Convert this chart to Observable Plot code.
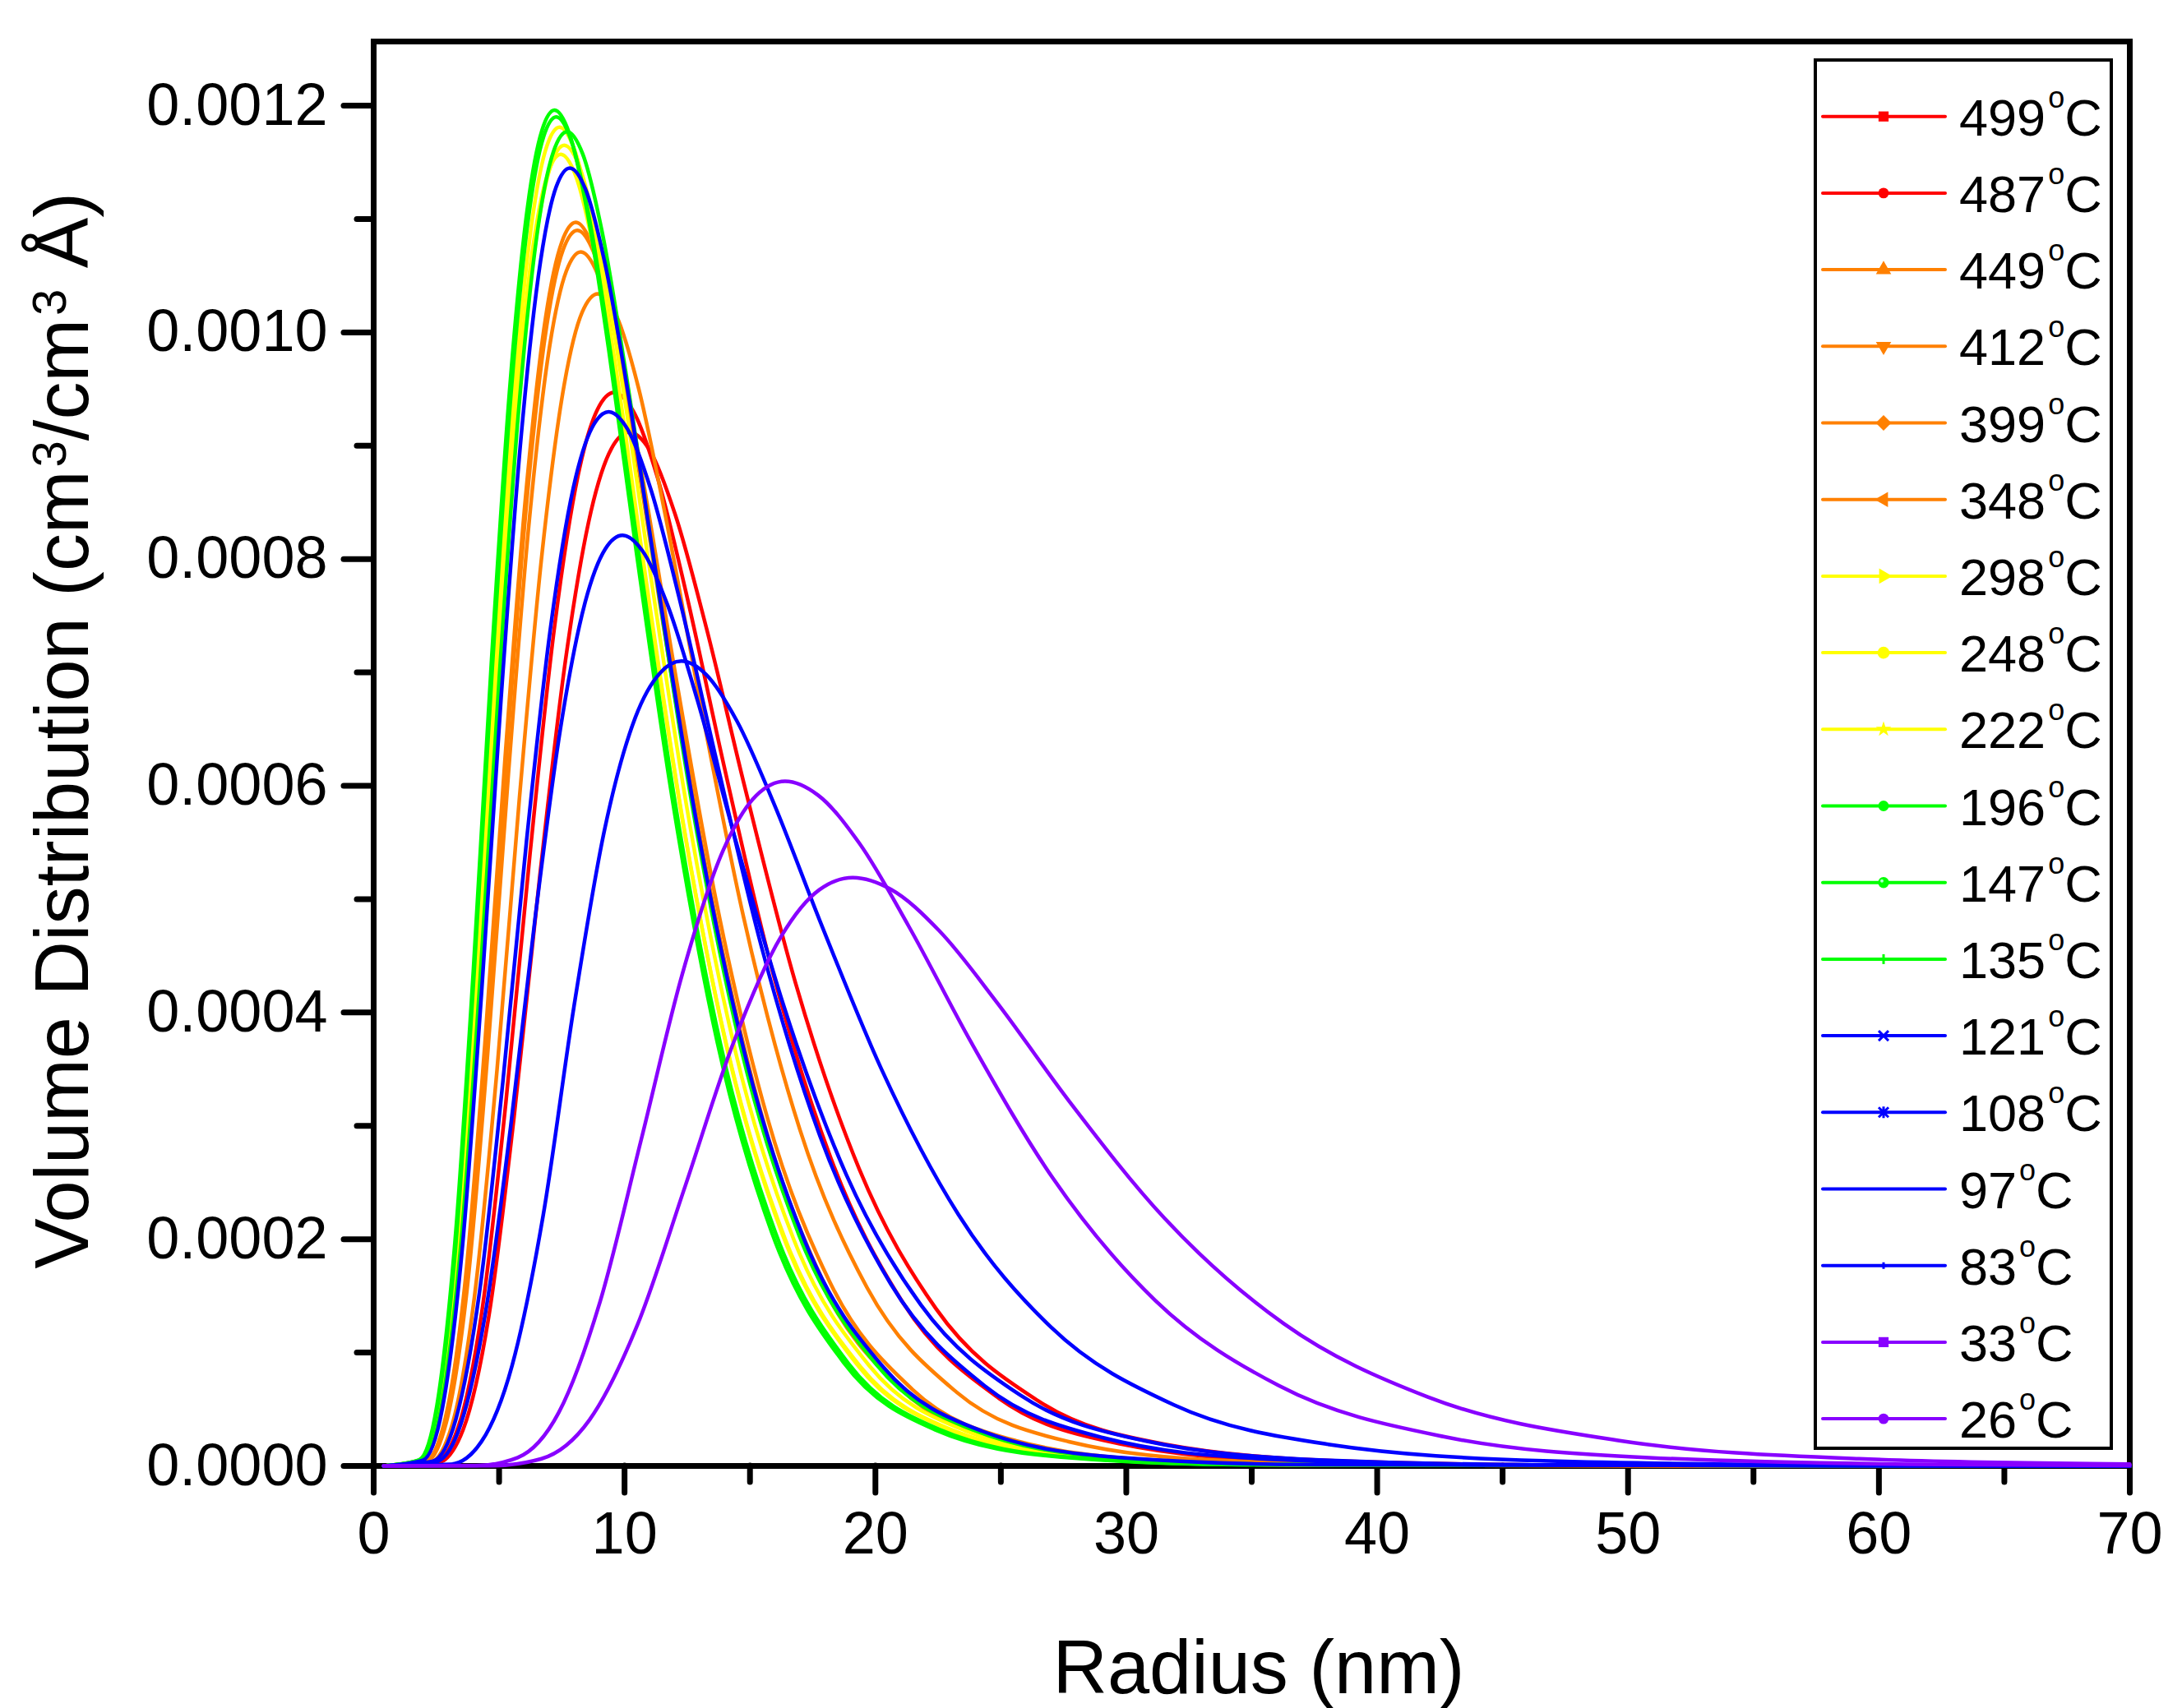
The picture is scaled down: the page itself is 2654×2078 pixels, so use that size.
<!DOCTYPE html>
<html>
<head>
<meta charset="utf-8">
<script src="https://cdn.jsdelivr.net/npm/d3@7"></script>
<script src="https://cdn.jsdelivr.net/npm/@observablehq/plot@0.6"></script>
<style>
  html, body { margin: 0; padding: 0; background: #ffffff; }
  #chart { width: 2654px; height: 2078px; }
</style>
</head>
<body>
<div id="chart"></div>
<script>
// ---------- data (radius in nm, volume distribution in cm^3/cm^3 Å) ----------
const labels = ["499","487","449","412","399","348","298","248","222","196","147","135","121","108","97","83","33","26"];
const colors = ["#FF0000","#FF0000","#FF8000","#FF8000","#FF8000","#FF8000","#FFFF00","#FFFF00","#FFFF00","#00FF00","#00FF00","#00FF00","#0000FF","#0000FF","#0000FF","#0000FF","#8800FF","#8800FF"];
const markers = ["square","circle","triUp","triDown","diamond","triLeft","triRight","circleBig","star","circle","circleHi","vtick","times","asterisk","none","plus","square","circle"];

const xTicks = [0,10,20,30,40,50,60,70];
const xMinorTicks = [5,15,25,35,45,55,65];
const yTicks = [0,0.0002,0.0004,0.0006,0.0008,0.0010,0.0012];
const yMinorTicks = [0.0001,0.0003,0.0005,0.0007,0.0009,0.0011];

const radius499 = [0.4,2.40,3.36,4.32,5.27,6.23,7.19,8.15,8.92,9.59,10.36,11.32,12.47,13.91,15.82,18.22,21.10,24.93,29.73,36.44,46.03,70];
const vol499 = [0,2.79e-6,3.35e-5,1.372e-4,3.207e-4,5.396e-4,7.370e-4,8.742e-4,9.320e-4,9.47e-4,9.301e-4,8.715e-4,7.687e-4,6.231e-4,4.429e-4,2.717e-4,1.439e-4,5.96e-5,1.96e-5,4.27e-6,5.5e-7,0];

const radius487 = [0.4,2.55,3.57,4.59,5.60,6.62,7.64,8.66,9.48,10.19,11.01,12.02,13.25,14.78,16.81,19.36,22.42,26.49,31.59,38.72,48.91,70];
const vol487 = [0,2.69e-6,3.23e-5,1.321e-4,3.088e-4,5.197e-4,7.097e-4,8.419e-4,8.976e-4,9.12e-4,8.958e-4,8.393e-4,7.403e-4,6.001e-4,4.265e-4,2.617e-4,1.386e-4,5.74e-5,1.89e-5,4.11e-6,5.3e-7,0];

const radius449 = [0.4,2.02,2.82,3.63,4.43,5.24,6.05,6.85,7.50,8.06,8.70,9.51,10.48,11.69,13.30,15.31,17.73,20.96,24.99,30.63,38.69,70];
const vol449 = [0,3.24e-6,3.88e-5,1.590e-4,3.714e-4,6.251e-4,8.537e-4,1.0126e-3,1.0797e-3,1.097e-3,1.0775e-3,1.0096e-3,8.904e-4,7.218e-4,5.131e-4,3.147e-4,1.667e-4,6.90e-5,2.27e-5,4.95e-6,6.4e-7,0];

const radius412 = [0.4,2.03,2.84,3.65,4.47,5.28,6.09,6.90,7.55,8.12,8.77,9.58,10.56,11.77,13.40,15.43,17.86,21.11,25.17,30.86,38.98,70];
const vol412 = [0,3.22e-6,3.86e-5,1.579e-4,3.691e-4,6.211e-4,8.482e-4,1.0062e-3,1.0728e-3,1.090e-3,1.0706e-3,1.0031e-3,8.848e-4,7.172e-4,5.098e-4,3.127e-4,1.657e-4,6.86e-5,2.26e-5,4.92e-6,6.3e-7,0];

const radius399 = [0.4,2.07,2.89,3.72,4.54,5.37,6.20,7.02,7.68,8.26,8.92,9.75,10.74,11.98,13.63,15.69,18.17,21.48,25.61,31.39,39.65,70];
const vol399 = [0,3.16e-6,3.79e-5,1.552e-4,3.626e-4,6.103e-4,8.335e-4,9.886e-4,1.0541e-3,1.071e-3,1.0519e-3,9.856e-4,8.693e-4,7.047e-4,5.009e-4,3.073e-4,1.628e-4,6.74e-5,2.22e-5,4.83e-6,6.2e-7,0];

const radius348 = [0.4,2.24,3.13,4.02,4.92,5.81,6.71,7.60,8.31,8.94,9.66,10.55,11.62,12.96,14.75,16.99,19.67,23.24,27.71,33.97,42.91,70];
const vol348 = [0,3.05e-6,3.66e-5,1.498e-4,3.501e-4,5.892e-4,8.047e-4,9.545e-4,1.0177e-3,1.034e-3,1.0156e-3,9.516e-4,8.393e-4,6.804e-4,4.836e-4,2.967e-4,1.572e-4,6.50e-5,2.14e-5,4.66e-6,6.0e-7,0];

const radius298 = [0.4,1.85,2.59,3.33,4.08,4.82,5.56,6.30,6.89,7.41,8.00,8.74,9.63,10.74,12.23,14.08,16.30,19.27,22.97,28.16,35.57,70];
const vol298 = [0,5.17e-6,5.26e-5,1.950e-4,4.304e-4,6.992e-4,9.348e-4,1.0961e-3,1.1635e-3,1.181e-3,1.1614e-3,1.0930e-3,9.723e-4,7.995e-4,5.815e-4,3.688e-4,2.040e-4,8.95e-5,3.18e-5,7.69e-6,1.13e-6,0];

const radius248 = [0.4,1.87,2.61,3.36,4.10,4.85,5.60,6.34,6.94,7.46,8.06,8.80,9.70,10.82,12.31,14.17,16.41,19.40,23.13,28.35,35.81,70];
const vol248 = [0,5.07e-6,5.15e-5,1.910e-4,4.216e-4,6.849e-4,9.158e-4,1.0738e-3,1.1399e-3,1.157e-3,1.1378e-3,1.0708e-3,9.526e-4,7.833e-4,5.697e-4,3.613e-4,1.998e-4,8.77e-5,3.11e-5,7.53e-6,1.11e-6,0];

const radius222 = [0.4,1.90,2.66,3.42,4.18,4.94,5.70,6.46,7.07,7.60,8.21,8.97,9.88,11.02,12.54,14.44,16.72,19.76,23.56,28.88,36.48,70];
const vol222 = [0,5.10e-6,5.18e-5,1.923e-4,4.245e-4,6.897e-4,9.221e-4,1.0812e-3,1.1478e-3,1.165e-3,1.1456e-3,1.0782e-3,9.591e-4,7.887e-4,5.736e-4,3.638e-4,2.012e-4,8.83e-5,3.13e-5,7.58e-6,1.12e-6,0];

const radius196 = [0.4,1.80,2.52,3.24,3.97,4.69,5.41,6.13,6.71,7.21,7.79,8.51,9.37,10.45,11.90,13.70,15.86,18.75,22.35,27.40,34.61,70];
const vol196 = [0,5.24e-6,5.32e-5,1.975e-4,4.358e-4,7.080e-4,9.466e-4,1.1100e-3,1.1783e-3,1.196e-3,1.1761e-3,1.1069e-3,9.847e-4,8.097e-4,5.889e-4,3.735e-4,2.065e-4,9.07e-5,3.22e-5,7.79e-6,1.15e-6,0];

const radius147 = [0.4,1.93,2.70,3.47,4.24,5.01,5.78,6.55,7.17,7.71,8.33,9.10,10.02,11.18,12.72,14.65,16.96,20.05,23.90,29.30,37.01,70];
const vol147 = [0,5.16e-6,5.24e-5,1.943e-4,4.289e-4,6.968e-4,9.316e-4,1.0924e-3,1.1596e-3,1.177e-3,1.1575e-3,1.0893e-3,9.690e-4,7.968e-4,5.796e-4,3.676e-4,2.033e-4,8.92e-5,3.17e-5,7.66e-6,1.13e-6,0];

const radius135 = [0.4,1.82,2.55,3.28,4.00,4.73,5.46,6.19,6.77,7.28,7.86,8.59,9.46,10.56,12.01,13.83,16.02,18.93,22.57,27.66,34.94,70];
const vol135 = [0,5.21e-6,5.30e-5,1.965e-4,4.336e-4,7.045e-4,9.419e-4,1.1044e-3,1.1724e-3,1.190e-3,1.1702e-3,1.1013e-3,9.797e-4,8.056e-4,5.860e-4,3.716e-4,2.055e-4,9.02e-5,3.20e-5,7.75e-6,1.14e-6,0];

const radius121 = [0.4,1.96,2.74,3.52,4.30,5.08,5.87,6.65,7.27,7.82,8.45,9.23,10.17,11.34,12.90,14.86,17.20,20.33,24.24,29.72,37.54,70];
const vol121 = [0,5.02e-6,5.10e-5,1.890e-4,4.172e-4,6.778e-4,9.063e-4,1.0627e-3,1.1281e-3,1.145e-3,1.1260e-3,1.0597e-3,9.427e-4,7.752e-4,5.638e-4,3.576e-4,1.977e-4,8.68e-5,3.08e-5,7.45e-6,1.10e-6,0];

const radius108 = [0.4,2.34,3.28,4.22,5.15,6.09,7.03,7.96,8.71,9.37,10.12,11.06,12.18,13.59,15.46,17.80,20.61,24.36,29.05,35.61,44.98,70];
const vol108 = [0,4.07e-6,4.14e-5,1.535e-4,3.389e-4,5.506e-4,7.361e-4,8.631e-4,9.162e-4,9.30e-4,9.146e-4,8.607e-4,7.657e-4,6.296e-4,4.579e-4,2.904e-4,1.606e-4,7.05e-5,2.50e-5,6.05e-6,8.9e-7,0];

const radius97 = [0.4,2.48,3.47,4.46,5.46,6.45,7.44,8.43,9.23,9.92,10.71,11.71,12.90,14.38,16.37,18.85,21.82,25.79,30.75,37.70,47.62,70];
const vol97 = [0,3.60e-6,3.65e-5,1.355e-4,2.992e-4,4.860e-4,6.498e-4,7.620e-4,8.089e-4,8.21e-4,8.074e-4,7.598e-4,6.759e-4,5.558e-4,4.043e-4,2.564e-4,1.418e-4,6.22e-5,2.21e-5,5.34e-6,7.9e-7,0];

const radius83 = [0.4,3.07,4.29,5.52,6.75,7.98,9.20,10.43,11.41,12.27,13.25,14.48,15.95,17.79,20.25,23.31,26.99,31.90,38.04,46.63,58.90,70];
const vol83 = [0,1.42e-6,2.13e-5,8.88e-5,2.201e-4,4.047e-4,5.609e-4,6.603e-4,6.994e-4,7.10e-4,6.982e-4,6.571e-4,5.845e-4,4.807e-4,3.496e-4,2.217e-4,1.226e-4,5.38e-5,1.91e-5,4.62e-6,6.8e-7,0];

const radius33 = [0.4,4.10,5.74,7.38,9.02,10.66,12.30,13.94,15.25,16.40,17.71,19.35,21.32,23.78,27.06,31.16,36.08,42.64,50.84,62.32,70];
const vol33 = [0,2.8e-7,7.37e-6,4.72e-5,1.446e-4,2.875e-4,4.337e-4,5.435e-4,5.914e-4,6.04e-4,5.918e-4,5.496e-4,4.764e-4,3.751e-4,2.543e-4,1.459e-4,7.08e-5,2.59e-5,7.31e-6,1.29e-6,4.2e-7];

const radius26 = [0.4,4.78,6.69,8.60,10.51,12.42,14.33,16.24,17.76,19.10,20.63,22.54,24.83,27.70,31.52,36.29,42.02,49.66,59.21,70];
const vol26 = [0,2.4e-7,6.33e-6,4.05e-5,1.242e-4,2.470e-4,3.727e-4,4.670e-4,5.082e-4,5.19e-4,5.085e-4,4.722e-4,4.093e-4,3.224e-4,2.186e-4,1.253e-4,6.08e-5,2.23e-5,6.28e-6,1.55e-6];

const radii = [radius499,radius487,radius449,radius412,radius399,radius348,radius298,radius248,radius222,radius196,radius147,radius135,radius121,radius108,radius97,radius83,radius33,radius26];
const vols = [vol499,vol487,vol449,vol412,vol399,vol348,vol298,vol248,vol222,vol196,vol147,vol135,vol121,vol108,vol97,vol83,vol33,vol26];

// ---------- table for Plot ----------
const rows = [];
labels.forEach((lab, i) => {
  radii[i].forEach((r, j) => rows.push({series: lab, radius: r, vol: vols[i][j]}));
});

const FONT = "'Liberation Sans', Arial, Helvetica, sans-serif";

const plot = Plot.plot({
  width: 2654,
  height: 2078,
  marginLeft: 454,
  marginRight: 64,
  marginTop: 50,
  marginBottom: 295,
  style: {fontFamily: FONT, background: "#ffffff", color: "#000000"},
  x: {domain: [0, 70]},
  y: {domain: [0, 0.0012566]},
  color: {domain: labels, range: colors},
  marks: [
    Plot.frame({stroke: "#000", strokeWidth: 7}),
    Plot.axisX({ticks: xTicks, tickSize: 33, tickPadding: 22, fontSize: 72, strokeWidth: 7, strokeLinecap: "round", tickFormat: d => String(d), label: null}),
    Plot.axisX({ticks: xMinorTicks, tickSize: 20, strokeWidth: 7, strokeLinecap: "round", tickFormat: () => "", label: null}),
    Plot.axisY({ticks: yTicks, tickSize: 36, tickPadding: 20, fontSize: 72, strokeWidth: 7, strokeLinecap: "round", tickFormat: d3.format(".4f"), label: null}),
    Plot.axisY({ticks: yMinorTicks, tickSize: 20, strokeWidth: 7, strokeLinecap: "round", tickFormat: () => "", label: null}),
    Plot.line(rows, {x: "radius", y: "vol", z: "series", stroke: "series", strokeWidth: 4.5, curve: "monotone-x"})
  ]
});

document.getElementById("chart").appendChild(plot);

// ---------- axis titles ----------
const svg = d3.select(plot);

const yt = svg.append("text")
  .attr("transform", "translate(107,889) rotate(-90)")
  .attr("text-anchor", "middle")
  .attr("font-family", FONT)
  .attr("font-size", 92)
  .attr("fill", "#000");
yt.append("tspan").text("Volume Distribution (cm");
yt.append("tspan").attr("font-size", 58).attr("dy", -27).attr("dx", 4).text("3");
yt.append("tspan").attr("dy", 27).text("/cm");
yt.append("tspan").attr("font-size", 58).attr("dy", -27).attr("dx", 4).text("3");
yt.append("tspan").attr("dy", 27).text("\u00A0Å)");

svg.append("text")
  .attr("x", 1531)
  .attr("y", 2060)
  .attr("text-anchor", "middle")
  .attr("font-family", FONT)
  .attr("font-size", 92)
  .attr("fill", "#000")
  .text("Radius (nm)");

// ---------- legend ----------
const lg = svg.append("g").attr("text-anchor", "start");
lg.append("rect")
  .attr("x", 2208).attr("y", 73)
  .attr("width", 360).attr("height", 1689)
  .attr("fill", "#fff").attr("stroke", "#000").attr("stroke-width", 4);

function drawMarker(g, type, cx, cy, col) {
  const sym = (t, size, rot) => g.append("path")
    .attr("d", d3.symbol(t, size)())
    .attr("transform", `translate(${cx},${cy}) rotate(${rot || 0})`)
    .attr("fill", col);
  const strokeP = (d) => g.append("path").attr("d", d)
    .attr("stroke", col).attr("stroke-width", 3).attr("fill", "none");
  switch (type) {
    case "square": sym(d3.symbolSquare, 150); break;
    case "circle": sym(d3.symbolCircle, 130); break;
    case "circleBig": sym(d3.symbolCircle, 170); break;
    case "circleHi":
      sym(d3.symbolCircle, 140);
      g.append("circle").attr("cx", cx - 2).attr("cy", cy - 2).attr("r", 2).attr("fill", "#b0ffd0");
      break;
    case "triUp": sym(d3.symbolTriangle, 150, 0); break;
    case "triDown": sym(d3.symbolTriangle, 150, 180); break;
    case "triLeft": sym(d3.symbolTriangle, 150, -90); break;
    case "triRight": sym(d3.symbolTriangle, 150, 90); break;
    case "diamond": sym(d3.symbolSquare, 180, 45); break;
    case "star": sym(d3.symbolStar, 110); break;
    case "vtick": strokeP(`M${cx},${cy - 6}L${cx},${cy + 6}`); break;
    case "plus": strokeP(`M${cx},${cy - 4}L${cx},${cy + 4}M${cx - 4},${cy}L${cx + 4},${cy}`); break;
    case "times": strokeP(`M${cx - 6},${cy - 6}L${cx + 6},${cy + 6}M${cx - 6},${cy + 6}L${cx + 6},${cy - 6}`); break;
    case "asterisk": strokeP(`M${cx - 6},${cy - 6}L${cx + 6},${cy + 6}M${cx - 6},${cy + 6}L${cx + 6},${cy - 6}M${cx},${cy - 7}L${cx},${cy + 7}`); break;
    default: break;
  }
}

labels.forEach((lab, i) => {
  const cy = 141.7 + i * 93.2;
  lg.append("line")
    .attr("x1", 2217).attr("x2", 2366)
    .attr("y1", cy).attr("y2", cy)
    .attr("stroke", colors[i]).attr("stroke-width", 4).attr("stroke-linecap", "round");
  drawMarker(lg, markers[i], 2291, cy, colors[i]);
  const t = lg.append("text")
    .attr("x", 2383).attr("y", cy + 23)
    .attr("text-anchor", "start")
    .attr("font-family", FONT).attr("font-size", 63).attr("fill", "#000");
  t.append("tspan").text(lab);
  t.append("tspan").attr("font-size", 36).attr("dy", -34).attr("dx", 3).text("o");
  t.append("tspan").attr("dy", 34).text("C");
});
</script>
</body>
</html>
